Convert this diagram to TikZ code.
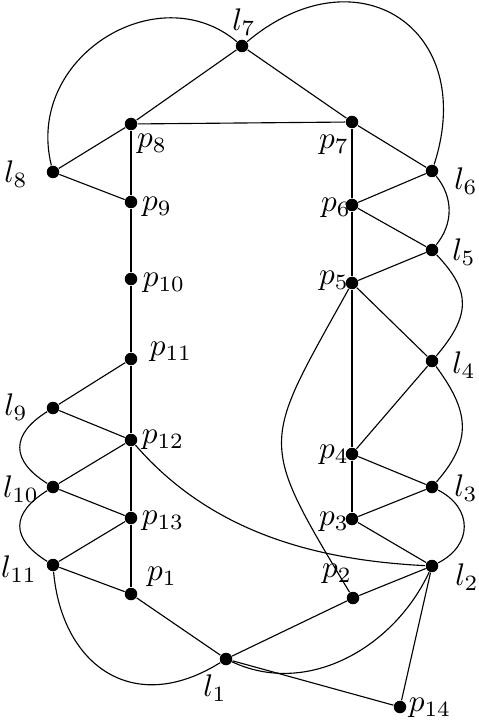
\documentclass[tikz,border=0pt]{standalone}
\begin{document}
\begin{tikzpicture}[x=0.32pt,y=-0.32pt,line width=0.36pt,
  dot/.style={circle,fill=black,inner sep=0pt,minimum size=4pt},
  lab/.style={inner sep=0pt}]
\useasboundingbox (0,0) rectangle (478,720);
% vertices
\node[dot] (l7) at (242,46) {};
\node[dot] (p8) at (131,124) {};
\node[dot] (p7) at (352,122) {};
\node[dot] (l8) at (53,172) {};
\node[dot] (l6) at (432,171) {};
\node[dot] (p9) at (131,202) {};
\node[dot] (p6) at (352,205) {};
\node[dot] (l5) at (432,250) {};
\node[dot] (p10) at (131,279) {};
\node[dot] (p5) at (352,283) {};
\node[dot] (p11) at (131,359) {};
\node[dot] (l4) at (432,361) {};
\node[dot] (l9) at (53,408) {};
\node[dot] (p12) at (131,440) {};
\node[dot] (p4) at (352,454) {};
\node[dot] (l10) at (53,487) {};
\node[dot] (l3) at (432,487) {};
\node[dot] (p13) at (131,518) {};
\node[dot] (p3) at (352,519) {};
\node[dot] (l11) at (53,565) {};
\node[dot] (l2) at (432,566) {};
\node[dot] (p1) at (131,594) {};
\node[dot] (p2) at (353,598) {};
\node[dot] (l1) at (226,659) {};
\node[dot] (p14) at (400,707) {};
% labels
\node[lab] (tl7) at (244,22) {$l_7$};
\node[lab] (tp8) at (152,144) {$p_8$};
\node[lab] (tp7) at (334,145) {$p_7$};
\node[lab] (tl8) at (16,174) {$l_8$};
\node[lab] (tl6) at (466,181) {$l_6$};
\node[lab] (tp9) at (157,207) {$p_9$};
\node[lab] (tp6) at (336,208) {$p_6$};
\node[lab] (tp10) at (164,283) {$p_{10}$};
\node[lab] (tp5) at (334,281) {$p_5$};
\node[lab] (tl5) at (464,252) {$l_5$};
\node[lab] (tp11) at (171,352) {$p_{11}$};
\node[lab] (tl4) at (464,365) {$l_4$};
\node[lab] (tl9) at (16,407) {$l_9$};
\node[lab] (tp12) at (163,440) {$p_{12}$};
\node[lab] (tp4) at (334,455) {$p_4$};
\node[lab] (tl10) at (21,489) {$l_{10}$};
\node[lab] (tl3) at (466,488) {$l_3$};
\node[lab] (tp13) at (163,521) {$p_{13}$};
\node[lab] (tp3) at (334,522) {$p_3$};
\node[lab] (tl11) at (19,569) {$l_{11}$};
\node[lab] (tl2) at (467,577) {$l_2$};
\node[lab] (tp1) at (162,577) {$p_1$};
\node[lab] (tp2) at (337,574) {$p_2$};
\node[lab] (tl1) at (215,688) {$l_1$};
\node[lab] (tp14) at (430,708) {$p_{14}$};
% straight edges
\draw (l7) -- (p8);
\draw (l7) -- (p7);
\draw (p8) -- (p7);
\draw (l8) -- (p8);
\draw (l8) -- (p9);
\draw (p8) -- (p9) -- (p10) -- (p11) -- (p12) -- (p13) -- (p1);
\draw (l9) -- (p11);
\draw (l9) -- (p12);
\draw (l10) -- (p12);
\draw (l10) -- (p13);
\draw (l11) -- (p13);
\draw (l11) -- (p1);
\draw (p1) -- (l1);
\draw (l1) -- (p2);
\draw (p2) -- (l2);
\draw (l1) -- (p14);
\draw (l2) -- (p14);
\draw (p7) -- (p6) -- (p5) -- (p4) -- (p3);
\draw (l6) -- (p7);
\draw (l6) -- (p6);
\draw (l5) -- (p6);
\draw (l5) -- (p5);
\draw (l4) -- (p5);
\draw (l4) -- (p4);
\draw (l3) -- (p4);
\draw (l3) -- (p3);
\draw (l2) -- (p3);
% curved edges
\draw (l7) .. controls +(-84.3,-70.7) and +(-28.5,-114.5) .. (l8);
\draw (l7) .. controls +(114.9,-96.4) and +(46.4,-142.7) .. (l6);
\draw (l6) .. controls +(21.4,26.4) and +(21.4,-26.4) .. (l5);
\draw (l5) .. controls +(40,42) and +(38,-45) .. (l4);
\draw (l4) .. controls +(37,50) and +(41,-47) .. (l3);
\draw (l3) .. controls +(41,20.9) and +(41,-20.9) .. (l2);
\draw (l9) .. controls +(-42.4,26.5) and +(-42.4,-26.5) .. (l10);
\draw (l10) .. controls +(-42.4,26.5) and +(-42.4,-26.5) .. (l11);
\draw (l11) .. controls +(8.7,99.6) and +(-93.3,58.3) .. (l1);
\draw (l1) .. controls +(81.6,38) and +(-38,81.6) .. (l2);
\draw (p12) .. controls +(78.7,90.6) and +(-120,-6) .. (l2);
\draw (p5) .. controls +(-90.7,163.6) and +(-96.3,-160.3) .. (p2);
\end{tikzpicture}
\end{document}
